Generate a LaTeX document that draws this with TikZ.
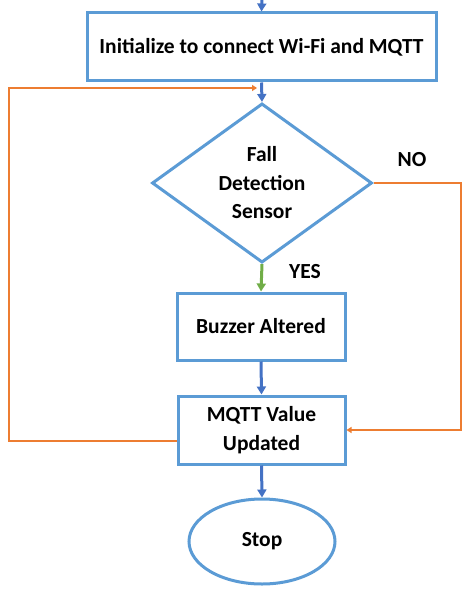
\documentclass[tikz,border=0pt]{standalone}
\usepackage{fontspec}
\setmainfont{Carlito}
\usetikzlibrary{shapes.geometric,arrows.meta}
\definecolor{boxblue}{RGB}{91,155,213}
\definecolor{flowblue}{RGB}{68,114,196}
\definecolor{loopor}{RGB}{237,125,49}
\definecolor{yesgreen}{RGB}{112,173,71}
\begin{document}
\begin{tikzpicture}[
    x=1pt, y=-1pt,
    >={Triangle[length=8pt,width=9pt]},
    stepbox/.style={rectangle, draw=boxblue, line width=3pt, fill=white, align=center,
      font=\bfseries\fontsize{21.5}{28.5}\selectfont, inner sep=0pt},
    decision/.style={diamond, draw=boxblue, line width=3pt, align=center,
      font=\bfseries\fontsize{21.5}{28.5}\selectfont, inner sep=0pt},
    endnode/.style={ellipse, draw=boxblue, line width=3pt, align=center,
      font=\bfseries\fontsize{21.5}{28.5}\selectfont, inner sep=0pt},
    flowedge/.style={->, line width=3pt, color=flowblue},
    yesedge/.style={->, line width=3pt, color=yesgreen},
    loopedge/.style={-{Triangle[length=5pt,width=6pt]}, line width=1.6pt, color=loopor},
    tag/.style={font=\bfseries\fontsize{21.5}{25}\selectfont},
]
\useasboundingbox (0,0) rectangle (474,591);

% steps
\node[stepbox, minimum width=349pt, minimum height=68pt] (init) at (261.5,47) {Initialize to connect Wi-Fi and MQTT};
\node[decision, minimum width=220pt, minimum height=149pt] (sensor) at (262,183) {Fall\\Detection\\Sensor};
\node[stepbox, minimum width=168pt, minimum height=67pt] (buzzer) at (261,326.5) {Buzzer Altered};
\node[stepbox, minimum width=167pt, minimum height=68pt] (mqtt) at (261.5,430) {MQTT Value\\Updated};
\node[endnode, minimum width=146pt, minimum height=85pt] (stop) at (262,541.5) {Stop};

% labels
\node[tag] (no) at (412,160) {NO};
\node[tag] (yes) at (305,272) {YES};

% loose ends
\coordinate (entry) at (262,-2);
\coordinate (noturn) at (461,183);
\coordinate (backturn) at (9,88);
\coordinate (backin) at (257,88);

% main flow
\draw[flowedge] (entry) -- (init.north);
\draw[flowedge] (init.south) -- (sensor.north);
\draw[yesedge] (sensor.south) -- (buzzer.north);
\draw[flowedge] (buzzer.south) -- (mqtt.north);
\draw[flowedge] (mqtt.south) -- (stop.north);

% loops
\draw[loopedge] (sensor.east) -- (noturn) |- (mqtt.east);
\draw[loopedge] ([yshift=-11pt]mqtt.west) -| (backturn) -- (backin);

\end{tikzpicture}
\end{document}
